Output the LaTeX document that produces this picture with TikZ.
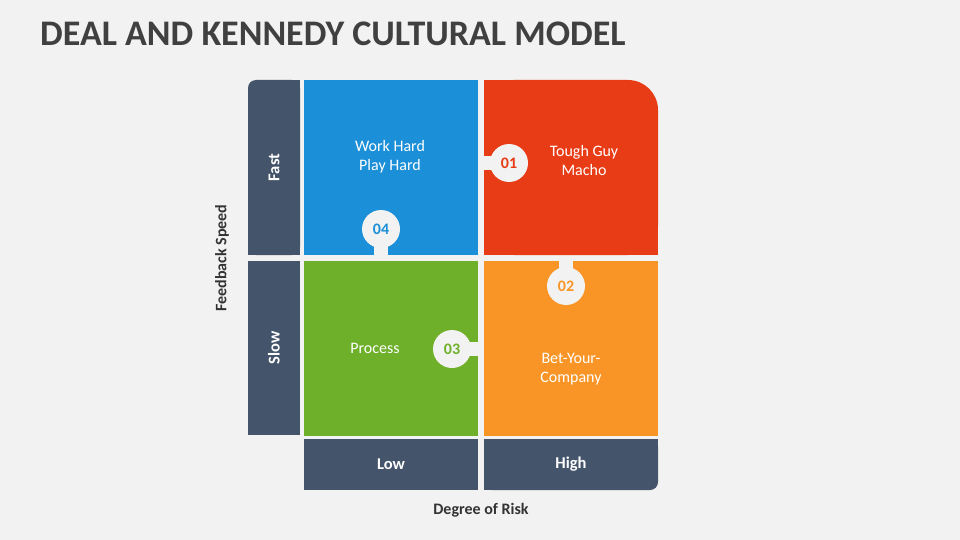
\documentclass[tikz,border=0pt]{standalone}
\usepackage{fontspec}
\setmainfont{Carlito}
\definecolor{bgcol}{HTML}{F2F2F2}
\definecolor{titlecol}{HTML}{404040}
\definecolor{axiscol}{HTML}{44546A}
\definecolor{whcol}{HTML}{1B8FD7}
\definecolor{tgcol}{HTML}{E83C17}
\definecolor{prcol}{HTML}{6FB02A}
\definecolor{bycol}{HTML}{F89526}

\begin{document}
\begin{tikzpicture}[x=1pt, y=-1pt,
    cell/.style={minimum width=174pt, minimum height=175pt, inner sep=0pt},
    axisbox/.style={fill=axiscol, inner sep=0pt},
    celltext/.style={text=white, align=center, font=\fontsize{16}{19}\selectfont},
    axistext/.style={text=white, font=\bfseries\fontsize{16.5}{18}\selectfont},
    badge/.style={circle, fill=bgcol, minimum size=38pt, inner sep=0pt,
        font=\bfseries\fontsize{16}{18}\selectfont},
    stem/.style={bgcol, line width=14pt},
    axislabel/.style={text=titlecol!80!black, font=\bfseries\fontsize{16}{18}\selectfont}]

    % page and title
    \fill[bgcol] (0,0) rectangle (960,540);
    \useasboundingbox (0,0) rectangle (960,540);
    \node[anchor=base west, inner sep=0pt, text=titlecol,
        font=\bfseries\fontsize{36}{40}\selectfont] (title) at (40,46)
        {DEAL AND KENNEDY CULTURAL MODEL};

    % quadrants
    \node[cell, fill=whcol] (work) at (391,167.5) {};
    \node[cell, fill=tgcol, rounded corners=30pt] (tough) at (571,167.5) {};
    \fill[tgcol] (tough.north west) rectangle (tough.south);
    \fill[tgcol] (tough.west) rectangle (tough.south east);
    \node[cell, fill=prcol] (proc) at (391,348) {};
    \node[cell, fill=bycol] (bet) at (571,348) {};

    % axis boxes
    \node[axisbox, minimum width=52pt, minimum height=175pt, rounded corners=8pt] (fast) at (274,167.5) {};
    \fill[axiscol] (fast.north) rectangle (fast.south east);
    \fill[axiscol] (fast.west) rectangle (fast.south east);
    \node[axisbox, minimum width=52pt, minimum height=174pt] (slow) at (274,348) {};
    \node[axisbox, minimum width=174pt, minimum height=51pt] (low) at (391,464.5) {};
    \node[axisbox, minimum width=174pt, minimum height=51pt, rounded corners=8pt] (high) at (571,464.5) {};
    \fill[axiscol] (high.north west) rectangle (high.south);
    \fill[axiscol] (high.north west) rectangle (high.east);

    % texts
    \node[celltext] (worktxt) at (390,157) {Work Hard\\Play Hard};
    \node[celltext] (toughtxt) at (584,161) {Tough Guy\\Macho};
    \node[celltext] (proctxt) at (375,348) {Process};
    \node[celltext] (bettxt) at (571,369) {Bet-Your-\\Company};
    \node[axistext, rotate=90] (fasttxt) at (fast) {Fast};
    \node[axistext, rotate=90] (slowtxt) at (slow) {Slow};
    \node[axistext] (lowtxt) at (low) {Low};
    \node[axistext] (hightxt) at (high) {High};

    % numbered badges
    \node[badge, text=tgcol] (b1) at (509,163) {01};
    \draw[stem] ([xshift=-10pt]b1.center) -- (b1.center -| tough.west);
    \node[badge, text=bycol] (b2) at (566,286) {02};
    \draw[stem] ([yshift=10pt]b2.center) -- (b2.center |- bet.north);
    \node[badge, text=prcol] (b3) at (452,349) {03};
    \draw[stem] ([xshift=10pt]b3.center) -- (b3.center -| proc.east);
    \node[badge, text=whcol] (b4) at (381,229) {04};
    \draw[stem] ([yshift=-10pt]b4.center) -- (b4.center |- work.south);

    % axis titles
    \node[axislabel, rotate=90] (speed) at (222,258) {Feedback Speed};
    \node[axislabel] (risk) at (481,510) {Degree of Risk};
\end{tikzpicture}
\end{document}
